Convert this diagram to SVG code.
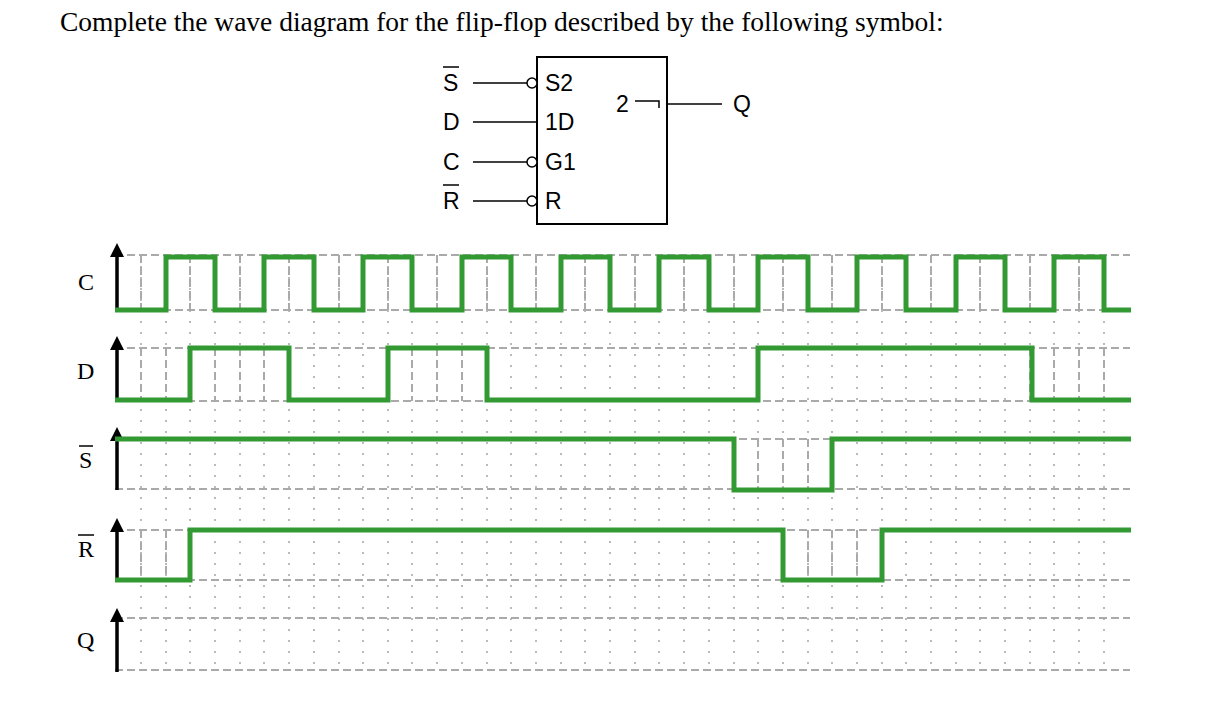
<svg xmlns="http://www.w3.org/2000/svg" width="1230" height="717" viewBox="0 0 1230 717">
<style>
.t{font-family:"Liberation Serif",serif;font-size:24px;fill:#000}
.tt{font-family:"Liberation Serif",serif;font-size:27.5px;fill:#000}
.a{font-family:"Liberation Sans",sans-serif;font-size:23px;fill:#000}
.hd{stroke:#aaa;stroke-width:2;stroke-dasharray:8 4;fill:none}
.vd{stroke:#aaa;stroke-width:2;stroke-dasharray:8 4;fill:none}
.dot{stroke:#bbb;stroke-width:2;stroke-dasharray:2 9;fill:none}
.sig{stroke:#339933;stroke-width:5;fill:none;stroke-linejoin:miter}
.ln{stroke:#000;stroke-width:1.5;fill:none}
.ax{stroke:#000;stroke-width:4}
</style>
<rect width="1230" height="717" fill="#fff"/>
<text class="tt" x="60" y="31">Complete the wave diagram for the flip-flop described by the following symbol:</text>
<g id="symbol">
<rect x="537" y="57" width="130" height="167" fill="#fff" stroke="#000" stroke-width="2"/>
<text class="a" x="443" y="91">S</text><line x1="443" y1="67" x2="459" y2="67" stroke="#000" stroke-width="1.5"/>
<text class="a" x="443" y="130">D</text>
<text class="a" x="443" y="170">C</text>
<text class="a" x="443" y="209">R</text><line x1="443" y1="185" x2="459" y2="185" stroke="#000" stroke-width="1.5"/>
<line class="ln" x1="473" y1="83" x2="527" y2="83"/><circle cx="532" cy="83" r="5" fill="#fff" stroke="#000" stroke-width="1.5"/>
<line class="ln" x1="473" y1="122" x2="537" y2="122"/>
<line class="ln" x1="473" y1="162" x2="527" y2="162"/><circle cx="532" cy="162" r="5" fill="#fff" stroke="#000" stroke-width="1.5"/>
<line class="ln" x1="473" y1="201" x2="527" y2="201"/><circle cx="532" cy="201" r="5" fill="#fff" stroke="#000" stroke-width="1.5"/>
<text class="a" x="545" y="91">S2</text>
<text class="a" x="545" y="130">1D</text>
<text class="a" x="545" y="170">G1</text>
<text class="a" x="545" y="209">R</text>
<text class="a" x="616" y="112">2</text>
<path class="ln" d="M635,101 H659 V108"/>
<line class="ln" x1="667" y1="104" x2="722" y2="104"/>
<text class="a" x="733" y="112">Q</text>
</g>
<g id="grid">
<path class="dot" d="M141,255V670M166,255V670M190,255V670M215,255V670M240,255V670M264,255V670M289,255V670M314,255V670M339,255V670M363,255V670M388,255V670M412,255V670M437,255V670M462,255V670M487,255V670M511,255V670M536,255V670M561,255V670M585,255V670M610,255V670M635,255V670M659,255V670M684,255V670M709,255V670M734,255V670M758,255V670M783,255V670M808,255V670M832,255V670M857,255V670M882,255V670M906,255V670M931,255V670M956,255V670M980,255V670M1005,255V670M1030,255V670M1054,255V670M1079,255V670M1104,255V670"/>
<path class="hd" d="M115,255H1130M115,310H1130M115,348H1130M115,401H1130M115,439H1130M115,489H1130M115,530H1130M115,580H1130M115,618H1130M115,670H1130"/>
<path class="vd" d="M141,255V310M166,255V310M190,255V310M215,255V310M240,255V310M264,255V310M289,255V310M314,255V310M339,255V310M363,255V310M388,255V310M412,255V310M437,255V310M462,255V310M487,255V310M511,255V310M536,255V310M561,255V310M585,255V310M610,255V310M635,255V310M659,255V310M684,255V310M709,255V310M734,255V310M758,255V310M783,255V310M808,255V310M832,255V310M857,255V310M882,255V310M906,255V310M931,255V310M956,255V310M980,255V310M1005,255V310M1030,255V310M1054,255V310M1079,255V310M1104,255V310"/>
<path class="vd" d="M141,348V401M166,348V401M190,348V401M215,348V401M240,348V401M264,348V401M289,348V401M388,348V401M412,348V401M437,348V401M462,348V401M487,348V401M1030,348V401M1054,348V401M1079,348V401M1104,348V401"/>
<path class="vd" d="M734,439V489M758,439V489M783,439V489M808,439V489M832,439V489"/>
<path class="vd" d="M141,530V580M166,530V580M190,530V580M783,530V580M808,530V580M832,530V580M857,530V580M882,530V580"/>
</g>
<g id="axes">
<path d="M117,311V255M117,402V348M117,490V439M117,581V530M117,672V620" stroke="#000" stroke-width="3.5"/>
<path d="M110,257L117,243L124,257zM110,350L117,336L124,350zM110,441L117,427L124,441zM110,532L117,518L124,532zM110,622L117,608L124,622z" fill="#000"/>
</g>
<g id="labels">
<text class="t" x="78" y="290">C</text>
<text class="t" x="77" y="379">D</text>
<text class="t" x="79" y="468">S</text><line x1="79" y1="446" x2="93" y2="446" stroke="#000" stroke-width="1.5"/>
<text class="t" x="78" y="557">R</text><line x1="78" y1="535" x2="94" y2="535" stroke="#000" stroke-width="1.5"/>
<text class="t" x="77" y="648">Q</text>
</g>
<g id="signals">
<path class="sig" d="M115,310H166V257H215V310H264V257H314V310H363V257H412V310H462V257H511V310H561V257H610V310H659V257H709V310H758V257H808V310H857V257H906V310H956V257H1005V310H1054V257H1104V310H1131"/>
<path class="sig" d="M115,400H190V348H289V400H388V348H487V400H758V348H1032V400H1131"/>
<path class="sig" d="M115,439H734V490H832V439H1131"/>
<path class="sig" d="M115,580H190V530H783V580H882V530H1131"/>
</g>
</svg>
